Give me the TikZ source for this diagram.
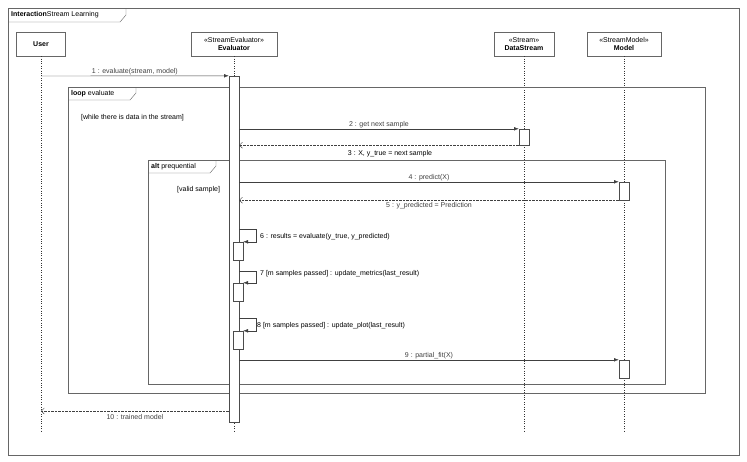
\documentclass[tikz,border=0pt]{standalone}
\usepackage{fontspec}
\setmainfont{Liberation Sans}
\usetikzlibrary{arrows.meta,positioning}

\begin{document}
\begin{tikzpicture}[x=1pt,y=-1pt,font=\fontsize{7}{8}\selectfont,>=Latex]
    % Styles
    \tikzset{
      obj/.style={draw=black!60,fill=white,align=center,inner sep=1pt},
      life/.style={dotted,black!80},
      act/.style={draw=black!70,fill=white},
      msg/.style={->,black!75},
      ret/.style={-{Straight Barb[length=3pt]},densely dotted,black!75},
      frame/.style={draw=black!60},
      lbl/.style={inner sep=1pt}
    }
    \useasboundingbox (0,0) rectangle (747,461);

    % Outer frame
    \draw[frame] (8,8) rectangle (739,455);
    \draw[frame] (8,22) -- (120,22) -- (126,15) -- (126,8);
    \node[lbl,anchor=west] (title) at (10,15) {\textbf{Interaction}Stream Learning};

    % Lifelines
    \node[obj,minimum width=49,minimum height=24] (user) at (41,44) {\textbf{User}};
    \node[obj,minimum width=86,minimum height=24] (eval) at (234,44) {«StreamEvaluator»\\\textbf{Evaluator}};
    \node[obj,minimum width=60,minimum height=24] (ds) at (524,44) {«Stream»\\\textbf{DataStream}};
    \node[obj,minimum width=74,minimum height=24] (model) at (624,44) {«StreamModel»\\\textbf{Model}};
    \coordinate (userEnd) at (41,432);
    \coordinate (evalEnd) at (234,432);
    \coordinate (dsEnd) at (524,432);
    \coordinate (modelEnd) at (624,432);
    \draw[life] (user) -- (userEnd);
    \draw[life] (eval) -- (evalEnd);
    \draw[life] (ds) -- (dsEnd);
    \draw[life] (model) -- (modelEnd);

    % Combined fragments
    \draw[frame] (68,87) rectangle (705,393);
    \draw[frame] (68,100) -- (130,100) -- (136,93) -- (136,87);
    \node[lbl,anchor=west] (loop) at (70,94) {\textbf{loop} evaluate};
    \node[lbl,anchor=west] (guard1) at (80,118) {[while there is data in the stream]};
    \draw[frame] (148,160) rectangle (665,384);
    \draw[frame] (148,173) -- (210,173) -- (216,166) -- (216,160);
    \node[lbl,anchor=west] (alt) at (150,167) {\textbf{alt} prequential};
    \node[lbl,anchor=west] (guard2) at (176,190) {[valid sample]};

    % Activations
    \node[act,minimum width=10,minimum height=346,inner sep=0] (aEval) at (234,249) {};
    \node[act,minimum width=10,minimum height=16,inner sep=0] (aDs) at (524,137) {};
    \node[act,minimum width=10,minimum height=18,inner sep=0] (aModel1) at (624,191) {};
    \node[act,minimum width=10,minimum height=18,inner sep=0] (aModel2) at (624,369) {};
    \node[act,minimum width=10,minimum height=18,inner sep=0] (aSelf1) at (238,251) {};
    \node[act,minimum width=10,minimum height=18,inner sep=0] (aSelf2) at (238,292) {};
    \node[act,minimum width=10,minimum height=18,inner sep=0] (aSelf3) at (238,340) {};

    % Messages
    \draw[msg] (user.south |- 0,76) -- node[lbl,above] {1 : evaluate(stream, model)} (aEval.north west);
    \draw[msg] (aEval.east |- aDs.north) -- node[lbl,above] {2 : get next sample} (aDs.north west);
    \draw[ret] (aDs.south west) -- (aEval.east |- aDs.south);
    \node[lbl] (m3) at (390,154) {3 : X, y\_true = next sample};
    \draw[msg] (aEval.east |- aModel1.north) -- node[lbl,above] {4 : predict(X)} (aModel1.north west);
    \draw[ret] (aModel1.south west) -- node[lbl,below=1pt] {5 : y\_predicted = Prediction} (aEval.east |- aModel1.south);
    \draw[msg] (aEval.east |- 0,229) -- ++(17,0) |- (aSelf1.north east);
    \node[lbl,anchor=west] (m6) at (259,237) {6 : results = evaluate(y\_true, y\_predicted)};
    \draw[msg] (aEval.east |- 0,271) -- ++(17,0) |- (aSelf2.north east);
    \node[lbl,anchor=west] (m7) at (259,274) {7 [m samples passed] : update\_metrics(last\_result)};
    \draw[msg] (aEval.east |- 0,318) -- ++(17,0) |- (aSelf3.north east);
    \node[lbl,anchor=west] (m8) at (256,326) {8 [m samples passed] : update\_plot(last\_result)};
    \draw[msg] (aEval.east |- aModel2.north) -- node[lbl,above] {9 : partial\_fit(X)} (aModel2.north west);
    \draw[ret] (aEval.west |- 0,411) -- node[lbl,below=2pt] {10 : trained model} (user.south |- 0,411);
\end{tikzpicture}
\end{document}
